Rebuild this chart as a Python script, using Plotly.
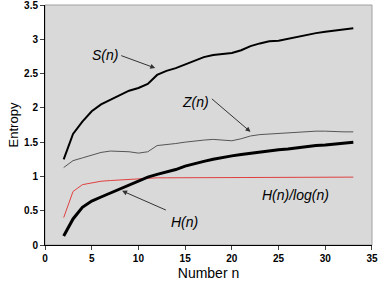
import plotly.graph_objects as go

n = list(range(2, 34))
S = [1.25, 1.62, 1.80, 1.95, 2.05, 2.12, 2.18, 2.25, 2.29, 2.35, 2.48, 2.54, 2.58, 2.63, 2.68, 2.74,
     2.77, 2.78, 2.80, 2.84, 2.90, 2.94, 2.97, 2.98, 3.01, 3.04, 3.06, 3.09, 3.11, 3.13, 3.15, 3.16]
Z = [1.13, 1.23, 1.27, 1.31, 1.35, 1.37, 1.37, 1.36, 1.34, 1.36, 1.45, 1.46, 1.48, 1.50, 1.52, 1.53,
     1.54, 1.53, 1.52, 1.55, 1.59, 1.61, 1.62, 1.63, 1.63, 1.64, 1.65, 1.66, 1.66, 1.65, 1.65, 1.65]
HN = [0.40, 0.78, 0.88, 0.91, 0.93, 0.94, 0.95, 0.96, 0.97, 0.98, 0.98, 0.98, 0.98, 0.99, 0.99, 0.99,
      0.99, 0.99, 0.99, 0.99, 0.99, 0.99, 0.99, 0.99, 0.99, 0.99, 0.99, 0.99, 0.99, 0.99, 0.99, 0.99]
H = [0.13, 0.38, 0.55, 0.64, 0.70, 0.76, 0.82, 0.88, 0.94, 0.99, 1.03, 1.06, 1.10, 1.15, 1.19, 1.22,
     1.25, 1.28, 1.30, 1.32, 1.34, 1.36, 1.37, 1.39, 1.40, 1.42, 1.44, 1.45, 1.46, 1.47, 1.49, 1.50]
x_ticks = [0, 5, 10, 15, 20, 25, 30, 35]
y_ticks = [0, 0.5, 1, 1.5, 2, 2.5, 3, 3.5]

fig = go.Figure()
fig.add_trace(go.Scatter(x=n, y=HN, mode="lines", line=dict(color="#e04040", width=1)))
fig.add_trace(go.Scatter(x=n, y=Z, mode="lines", line=dict(color="#555555", width=1)))
fig.add_trace(go.Scatter(x=n, y=H, mode="lines", line=dict(color="black", width=3)))
fig.add_trace(go.Scatter(x=n, y=S, mode="lines", line=dict(color="black", width=2)))

lab_font = dict(family="Liberation Sans, Arial", size=14, color="black")
anns = [
    dict(x=6.4, y=2.77, text="<i>S(n)</i>", showarrow=False, font=lab_font),
    dict(x=11.8, y=2.58, ax=8.0, ay=2.77, text="", showarrow=True),
    dict(x=16.1, y=2.08, text="<i>Z(n)</i>", showarrow=False, font=lab_font),
    dict(x=22.0, y=1.65, ax=17.7, ay=2.15, text="", showarrow=True),
    dict(x=26.8, y=0.73, text="<i>H(n)/log(n)</i>", showarrow=False, font=lab_font),
    dict(x=14.9, y=0.34, text="<i>H(n)</i>", showarrow=False, font=lab_font),
    dict(x=8.25, y=0.79, ax=13.1, ay=0.50, text="", showarrow=True),
]
for a in anns:
    if a.get("showarrow"):
        a.update(axref="x", ayref="y", arrowhead=2, arrowsize=1, arrowwidth=1, arrowcolor="#333333")
    fig.add_annotation(**a)

tick_font = dict(family="Liberation Sans, Arial", size=10, color="black", weight="bold")
fig.update_layout(
    width=379, height=281,
    margin=dict(l=45, r=7, t=5, b=36),
    paper_bgcolor="white", plot_bgcolor="#d9d9d9",
    showlegend=False,
    font=dict(family="Liberation Sans, Arial", size=11, color="black"),
    xaxis=dict(range=[0, 35.001], tickvals=x_ticks, showgrid=False, zeroline=False, ticks="outside", ticklen=4,
               showline=True, linecolor="black", automargin=False, ticklabeloverflow="allow",
               tickfont=tick_font,
               title=dict(text="Number n", font=dict(size=14), standoff=5)),
    yaxis=dict(range=[0, 3.5001], tickvals=y_ticks, showgrid=False, zeroline=False, ticks="outside", ticklen=4,
               showline=True, linecolor="black", automargin=False, ticklabeloverflow="allow",
               tickfont=tick_font,
               title=dict(text="Entropy", font=dict(size=13), standoff=2)),
)
fig.add_shape(type="rect", xref="paper", yref="paper", x0=0, y0=0, x1=1, y1=1,
              line=dict(color="#a0a0a0", width=1), layer="below")
fig.write_html("out.html", config={"displayModeBar": False},
               post_script="document.body.style.margin='0';document.body.style.overflow='hidden';")
